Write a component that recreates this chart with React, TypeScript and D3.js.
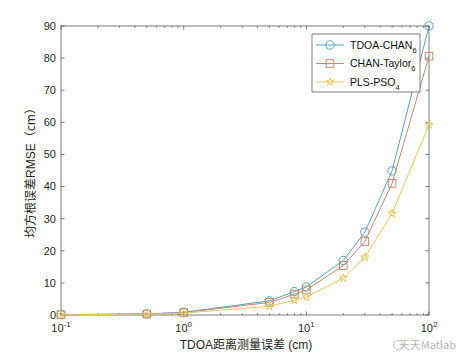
import React from "react";
import * as d3 from "d3";

const xValues = [0.1, 0.5, 1, 5, 8, 10, 20, 30, 50, 100];
const chanValues = [0.1, 0.35, 0.85, 4.4, 7.3, 8.7, 17.0, 25.8, 44.9, 90];
const taylorValues = [0.1, 0.3, 0.75, 3.9, 6.5, 7.8, 15.4, 22.9, 41.0, 80.6];
const psoValues = [0.05, 0.25, 0.6, 2.7, 4.6, 5.6, 11.5, 18.0, 31.6, 59.2];
const yTicks = [0, 10, 20, 30, 40, 50, 60, 70, 80, 90];
const xMajor = [0.1, 1, 10, 100];
const xMajorExp = ["-1", "0", "1", "2"];
const seriesNames = ["TDOA-CHAN", "CHAN-Taylor", "PLS-PSO"];
const seriesSubs = ["6", "6", "4"];

const colors = ["#5d9fb6", "#c08a72", "#e3c763"];

function Marker({ type, x, y, color }: { type: number; x: number; y: number; color: string }) {
  if (type === 0) return <circle cx={x} cy={y} r={4.2} fill="none" stroke={color} strokeWidth={1} />;
  if (type === 1) return <rect x={x - 3.8} y={y - 3.8} width={7.6} height={7.6} fill="none" stroke={color} strokeWidth={1} />;
  const star = d3.symbol().type(d3.symbolStar).size(20)();
  return <path d={star || ""} transform={`translate(${x},${y})`} fill="none" stroke={color} strokeWidth={1} />;
}

export default function App() {
  const W = 474, H = 355;
  const L = 61, R = 429, T = 26, B = 315;
  const x = d3.scaleLog().domain([0.1, 100]).range([L, R]);
  const y = d3.scaleLinear().domain([0, 90]).range([B, T]);
  const line = d3.line<number>().x((_, i) => x(xValues[i])).y((d) => y(d));
  const series = [chanValues, taylorValues, psoValues];
  const minor: number[] = [];
  [0.1, 1, 10].forEach((d) => { for (let k = 2; k <= 9; k++) minor.push(d * k); });
  const axisColor = "#262626";
  const font = "'Liberation Sans', Arial, sans-serif";
  return (
    <svg width={W} height={H} style={{ position: "absolute", left: 0, top: 0, background: "#fff" }} fontFamily={font}>
      <rect x={0} y={0} width={W} height={H} fill="#fff" />
      <rect x={L} y={T} width={R - L} height={B - T} fill="none" stroke={axisColor} strokeWidth={0.6} />
      {yTicks.map((t) => (
        <g key={"y" + t}>
          <line x1={L} x2={L + 3.5} y1={y(t)} y2={y(t)} stroke={axisColor} strokeWidth={0.6} />
          <line x1={R} x2={R - 3.5} y1={y(t)} y2={y(t)} stroke={axisColor} strokeWidth={0.6} />
          <text x={L - 5} y={y(t)} dy="0.35em" textAnchor="end" fontSize={11} fill={axisColor}>{t}</text>
        </g>
      ))}
      {xMajor.map((t, i) => (
        <g key={"x" + t}>
          <line x1={x(t)} x2={x(t)} y1={B} y2={B - 3.5} stroke={axisColor} strokeWidth={0.6} />
          <line x1={x(t)} x2={x(t)} y1={T} y2={T + 3.5} stroke={axisColor} strokeWidth={0.6} />
          <text x={x(t)} y={B + 17} textAnchor="middle" fontSize={11} fill={axisColor}>
            10<tspan dy={-5} fontSize={8}>{xMajorExp[i]}</tspan>
          </text>
        </g>
      ))}
      {minor.map((t) => (
        <g key={"m" + t}>
          <line x1={x(t)} x2={x(t)} y1={B} y2={B - 2} stroke={axisColor} strokeWidth={0.5} />
          <line x1={x(t)} x2={x(t)} y1={T} y2={T + 2} stroke={axisColor} strokeWidth={0.5} />
        </g>
      ))}
      {series.map((s, si) => (
        <g key={"s" + si}>
          <path d={line(s) || ""} fill="none" stroke={colors[si]} strokeWidth={1} />
          {s.map((v, i) => (
            <Marker key={i} type={si} x={x(xValues[i])} y={y(v)} color={colors[si]} />
          ))}
        </g>
      ))}
      <g>
        <rect x={312} y={34} width={108} height={58} fill="#fff" stroke={axisColor} strokeWidth={0.6} />
        {seriesNames.map((n, i) => {
          const ly = 45 + i * 18.5;
          return (
            <g key={"l" + i}>
              <line x1={316} x2={344} y1={ly} y2={ly} stroke={colors[i]} strokeWidth={1} />
              <Marker type={i} x={330} y={ly} color={colors[i]} />
              <text x={350} y={ly} dy="0.35em" fontSize={10.5} fill="#111">
                {n}<tspan dy={4} fontSize={7.5}>{seriesSubs[i]}</tspan>
              </text>
            </g>
          );
        })}
      </g>
      <text x={246} y={349} textAnchor="middle" fontSize={12} fill={axisColor}>
        TDOA<tspan fontFamily="'Noto Sans CJK SC', sans-serif">距离测量误差</tspan> (cm)
      </text>
      <text transform={`translate(35,170) rotate(-90)`} textAnchor="middle" fontSize={12} fill={axisColor}>
        <tspan fontFamily="'Noto Sans CJK SC', serif">均方根误差</tspan>RMSE<tspan fontFamily="'Noto Sans CJK SC', sans-serif">（cm）</tspan>
      </text>
      <text x={456} y={349} textAnchor="end" fontSize={11} fill="#b8b8b8" fontFamily="'Noto Sans CJK SC', sans-serif">天天Matlab</text>
      <circle cx={398} cy={345} r={4.5} fill="none" stroke="#c8c8c8" strokeWidth={1} />
    </svg>
  );
}
